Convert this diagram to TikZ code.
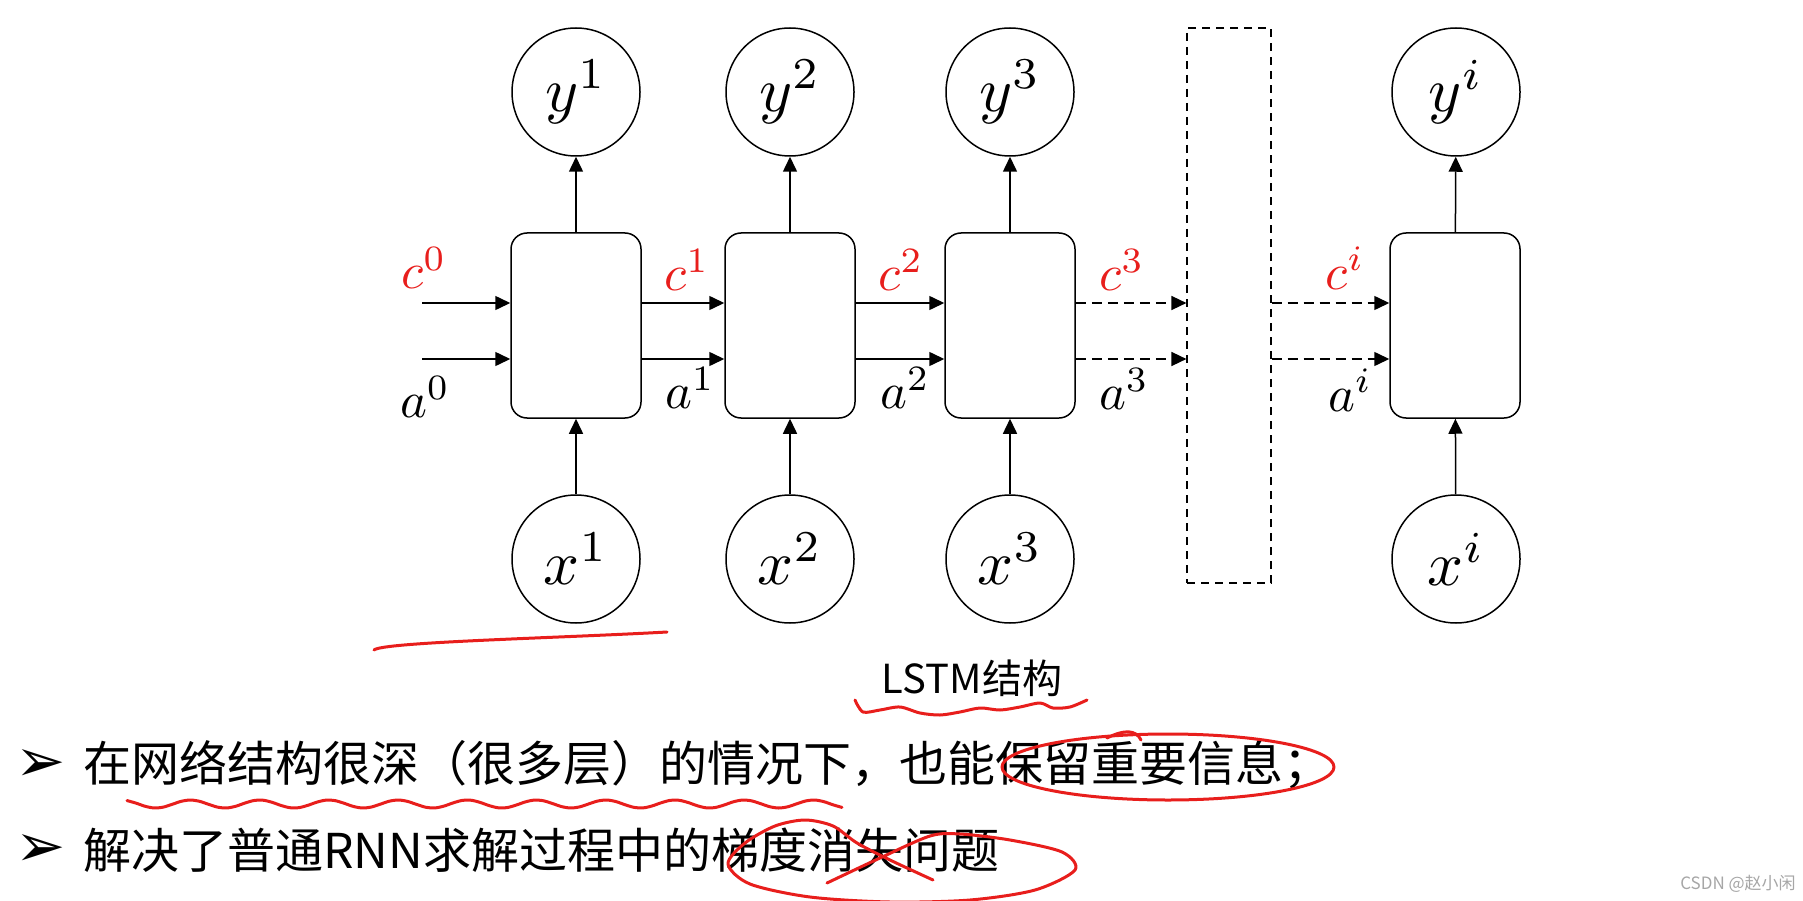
\documentclass[tikz,border=0pt]{standalone}
\usepackage{fontspec}
\newfontfamily\cjk{Noto Sans CJK SC}
\newfontfamily\dingfont{DejaVu Sans}
\usetikzlibrary{arrows.meta}

\definecolor{penred}{RGB}{232,30,28}
\newcommand{\unitlab}[1]{\scalebox{6.3}{$#1$}}
\newcommand{\statelab}[1]{\scalebox{5.1}{$#1$}}

\tikzset{
  cell/.style={draw, line width=1.5pt, rounded corners=16pt, minimum width=130pt, minimum height=185pt},
  unit/.style={draw, circle, line width=1.5pt, minimum size=128pt, inner sep=0pt},
  lab/.style={inner sep=0pt},
  flow/.style={-{Triangle[length=15pt,width=14pt]}, line width=1.5pt},
  pen/.style={penred, line width=3pt, line cap=round, line join=round},
  line/.style={inner sep=0pt, anchor=west, font=\cjk\fontsize{48}{48}\selectfont},
  bullet/.style={inner sep=0pt, font=\dingfont\fontsize{60}{60}\selectfont},
}

\begin{document}
\begin{tikzpicture}[x=1pt,y=-1pt]
\useasboundingbox (0,0) rectangle (1803,901);
% Define nodes
\node (y1) at (576,92) [unit] {\unitlab{y^1}};
\node (y2) at (790,92) [unit] {\unitlab{y^2}};
\node (y3) at (1010,92) [unit] {\unitlab{y^3}};
\node (yi) at (1456,92) [unit] {\unitlab{y^i}};
\node (cell1) at (576,325.5) [cell] {};
\node (cell2) at (790,325.5) [cell] {};
\node (cell3) at (1010,325.5) [cell] {};
\node (celli) at (1455,325.5) [cell] {};
\node (gap) at (1229,305.5) [draw, line width=1.2pt, dash pattern=on 8pt off 6pt, minimum width=84pt, minimum height=555pt] {};
\node (x1) at (576,559) [unit] {\unitlab{x^1}};
\node (x2) at (790,559) [unit] {\unitlab{x^2}};
\node (x3) at (1010,559) [unit] {\unitlab{x^3}};
\node (xi) at (1456,559) [unit] {\unitlab{x^i}};
\coordinate (c0) at (422,303);
\coordinate (a0) at (422,359);

% Draw arrows
\draw[flow] (cell1) -- (y1);
\draw[flow] (cell2) -- (y2);
\draw[flow] (cell3) -- (y3);
\draw[flow] (celli) -- (yi);
\draw[flow] (x1) -- (cell1);
\draw[flow] (x2) -- (cell2);
\draw[flow] (x3) -- (cell3);
\draw[flow] (xi) -- (celli);
\draw[flow] (c0) -- (c0 -| cell1.west);
\draw[flow] (a0) -- (a0 -| cell1.west);
\draw[flow] (c0 -| cell1.east) -- (c0 -| cell2.west);
\draw[flow] (a0 -| cell1.east) -- (a0 -| cell2.west);
\draw[flow] (c0 -| cell2.east) -- (c0 -| cell3.west);
\draw[flow] (a0 -| cell2.east) -- (a0 -| cell3.west);
\draw[flow, dash pattern=on 10pt off 6pt] (c0 -| cell3.east) -- (c0 -| gap.west);
\draw[flow, dash pattern=on 10pt off 6pt] (a0 -| cell3.east) -- (a0 -| gap.west);
\draw[flow, dash pattern=on 10pt off 6pt] (c0 -| gap.east) -- (c0 -| celli.west);
\draw[flow, dash pattern=on 10pt off 6pt] (a0 -| gap.east) -- (a0 -| celli.west);

% State labels
\node (lc0) at (424,268) [lab, text=penred] {\statelab{c^0}};
\node (la0) at (425,397) [lab] {\statelab{a^0}};
\node (lc1) at (687,270) [lab, text=penred] {\statelab{c^1}};
\node (la1) at (690,388) [lab] {\statelab{a^1}};
\node (lc2) at (901,270) [lab, text=penred] {\statelab{c^2}};
\node (la2) at (905,388) [lab] {\statelab{a^2}};
\node (lc3) at (1122,270) [lab, text=penred] {\statelab{c^3}};
\node (la3) at (1124,389) [lab] {\statelab{a^3}};
\node (lci) at (1345,268) [lab, text=penred] {\statelab{c^i}};
\node (lai) at (1350,390) [lab] {\statelab{a^i}};

% Caption and notes
\node (cap) at (972,678) [font=\cjk\fontsize{40}{40}\selectfont] {LSTM结构};
\node (b1) at (41,765) [bullet] {➢};
\node (b2) at (41,850) [bullet] {➢};
\node (t1) at (83,765) [line] {在网络结构很深（很多层）的情况下，也能保留重要信息；};
\node (t2) at (83,850) [line] {解决了普通RNN求解过程中的梯度消失问题};
\node (mark) at (1738,884) [text=gray!70, font=\cjk\fontsize{17}{17}\selectfont] {CSDN @赵小闲};

% Red pen marks
\draw[pen] (374,650) .. controls (382,642) and (560,638) .. (667,632);
\draw[pen] plot[smooth] coordinates {(855,700) (863,712) (880,710) (900,707) (920,713) (940,715) (960,712) (980,708) (1000,710) (1020,707) (1040,703) (1053,708) (1070,707) (1087,700)};
\draw[pen] plot[smooth, domain=127:842, samples=80] (\x,{804+4*sin(5.2*\x)});
\draw[pen] (1168,767) ellipse [x radius=166, y radius=33];
\draw[pen] (1107,738) .. controls (1125,729) and (1136,730) .. (1141,740);
\draw[pen] plot[smooth] coordinates {(933,880) (890,860) (857,843) (833,826) (805,820) (775,826) (745,843) (728,864) (750,884) (810,897) (890,902) (970,900) (1035,890) (1075,870) (1062,852) (1010,840) (960,834) (930,836) (880,858) (827,883)};
\end{tikzpicture}
\end{document}
